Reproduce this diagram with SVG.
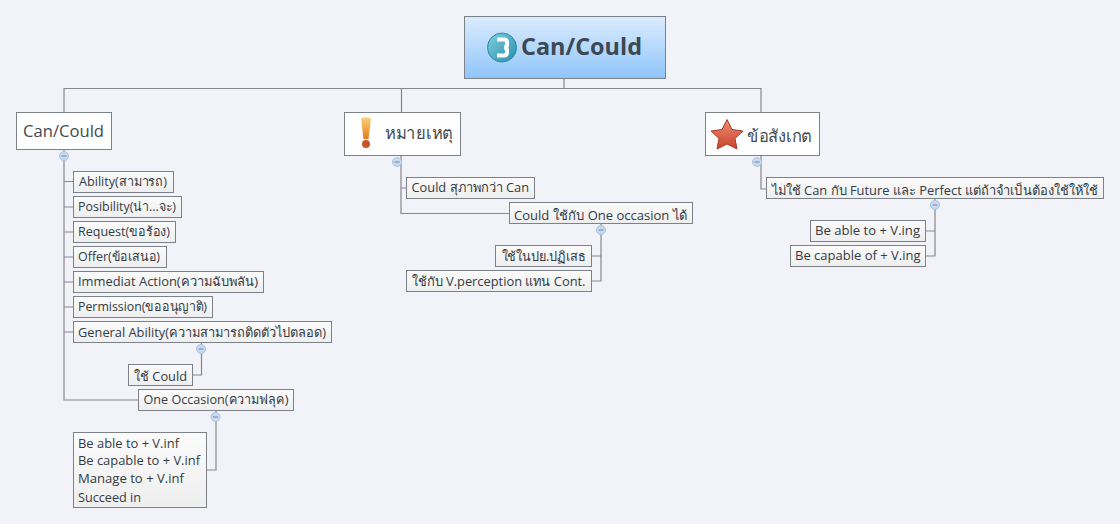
<svg xmlns="http://www.w3.org/2000/svg" width="1120" height="524" viewBox="0 0 1120 524">
<style>
text{font-family:"Open Sans","Noto Sans","DejaVu Sans",sans-serif;fill:#333b44}
.s{font-size:12.8px}
.m{font-size:17px;fill:#444a50}
.box{fill:url(#sub);stroke:#7d8288;stroke-width:1}
.main{fill:#fff;stroke:#7d8288;stroke-width:1}
#conn path{fill:none;stroke:#85888d;stroke-width:1.2}
.col circle{fill:#c9d9ef;stroke:#a9c3e4;stroke-width:1}
.col path{stroke:#6f86a8;stroke-width:1;fill:none}
</style>
<defs>
<linearGradient id="sub" x1="0" y1="0" x2="0" y2="1"><stop offset="0" stop-color="#fbfbfb"/><stop offset="1" stop-color="#eeeeee"/></linearGradient>
<linearGradient id="root" x1="0" y1="0" x2="0" y2="1"><stop offset="0" stop-color="#dcecfd"/><stop offset="1" stop-color="#8fc5fb"/></linearGradient>
<linearGradient id="ball" x1="0" y1="0" x2="1" y2="1"><stop offset="0" stop-color="#7fd0dc"/><stop offset="1" stop-color="#2a8fb0"/></linearGradient>
<linearGradient id="ex" x1="0" y1="0" x2="0" y2="1"><stop offset="0" stop-color="#fbd27a"/><stop offset="1" stop-color="#e8791c"/></linearGradient>
<linearGradient id="star" x1="0" y1="0" x2="0" y2="1"><stop offset="0" stop-color="#ee8a70"/><stop offset="1" stop-color="#c9452f"/></linearGradient>
<g id="c" class="col"><circle r="4.500"/><path d="M-2.500 0H2.500"/></g>
</defs>
<rect width="1120" height="524" fill="#f1f3f8"/>
<g id="conn">
<path d="M564 79V88.500M64 112V88.500H761V112M401.500 88.500V112"/>
<path d="M64 150V400H138M64 181.500H73M64 207H73M64 232H73M64 257H73M64 282H73M64 307H73M64 332H73"/>
<path d="M201.500 343V375H193"/>
<path d="M216 411V470H207"/>
<path d="M401 156V213.500H509M401 188H406"/>
<path d="M601 224V281H592M601 256H592"/>
<path d="M761 156V189H766"/>
<path d="M935 199V256H926M935 231H926"/>
</g>
<g id="root-node">
<rect x="464.500" y="16.500" width="201" height="62" fill="url(#root)" stroke="#7d8288"/>
<circle cx="502" cy="47.500" r="14.500" fill="url(#ball)" stroke="#2f86a8"/>
<path d="M497 39.500H504Q507 39.500 507 42.500V45Q507 47.500 504 47.500Q507 47.500 507 50V52.500Q507 55.500 504 55.500H497" fill="none" stroke="#fff" stroke-width="4"/>
<text x="521" y="55" font-size="24" font-weight="700" style="fill:#3c4854" textLength="121" lengthAdjust="spacingAndGlyphs">Can/Could</text>
</g>
<g id="n-cancould"><rect class="main" x="16.500" y="112.500" width="95" height="37"/><text class="m" x="23" y="137" textLength="81" lengthAdjust="spacingAndGlyphs">Can/Could</text></g>
<g id="n-note"><rect class="main" x="344.500" y="112.500" width="116" height="43"/>
<path d="M361 118.500Q366 116 371 118.500L368.500 139H363.500Z" fill="url(#ex)"/><circle cx="366" cy="144" r="4" fill="#c9542a"/>
<text class="m" x="385" y="139" textLength="68" lengthAdjust="spacingAndGlyphs">หมายเหตุ</text></g>
<g id="n-obs"><rect class="main" x="705.500" y="112.500" width="114" height="43"/>
<path d="M727 119.500L732 129.500L743 131L735 138.500L737 149L727 144L717 149L719 138.500L711 131L722 129.500Z" fill="url(#star)" stroke="#a83a2a" stroke-width="1"/>
<text class="m" x="747" y="142" textLength="65" lengthAdjust="spacingAndGlyphs">ข้อสังเกต</text></g>
<g id="n1"><rect class="box" x="73.500" y="171.500" width="100" height="21"/><text class="s" x="79" y="186" textLength="88" lengthAdjust="spacingAndGlyphs">Ability(สามารถ)</text></g>
<g id="n2"><rect class="box" x="73.500" y="196.500" width="108" height="21"/><text class="s" x="78" y="211" textLength="98" lengthAdjust="spacingAndGlyphs">Posibility(น่า...จะ)</text></g>
<g id="n3"><rect class="box" x="73.500" y="221.500" width="102" height="21"/><text class="s" x="78" y="236" textLength="92" lengthAdjust="spacingAndGlyphs">Request(ขอร้อง)</text></g>
<g id="n4"><rect class="box" x="73.500" y="246.500" width="93" height="21"/><text class="s" x="78" y="261" textLength="82" lengthAdjust="spacingAndGlyphs">Offer(ข้อเสนอ)</text></g>
<g id="n5"><rect class="box" x="73.500" y="271.500" width="190" height="21"/><text class="s" x="78" y="286" textLength="180" lengthAdjust="spacingAndGlyphs">Immediat Action(ความฉับพลัน)</text></g>
<g id="n6"><rect class="box" x="73.500" y="296.500" width="139" height="21"/><text class="s" x="78" y="311" textLength="129" lengthAdjust="spacingAndGlyphs">Permission(ขออนุญาติ)</text></g>
<g id="n7"><rect class="box" x="73.500" y="321.500" width="258" height="21"/><text class="s" x="78" y="337" textLength="248" lengthAdjust="spacingAndGlyphs">General Ability(ความสามารถติดตัวไปตลอด)</text></g>
<g id="n8"><rect class="box" x="128.500" y="364.500" width="64" height="21"/><text class="s" x="134" y="381" textLength="53" lengthAdjust="spacingAndGlyphs">ใช้ Could</text></g>
<g id="n9"><rect class="box" x="138.500" y="389.500" width="155" height="21"/><text class="s" x="143.500" y="404" textLength="145" lengthAdjust="spacingAndGlyphs">One Occasion(ความฟลุค)</text></g>
<g id="n10"><rect class="box" x="73.500" y="432.500" width="133" height="75"/>
<text class="s" x="78" y="448" textLength="101" lengthAdjust="spacingAndGlyphs">Be able to + V.inf</text><text class="s" x="78" y="465" textLength="122" lengthAdjust="spacingAndGlyphs">Be capable to + V.inf</text><text class="s" x="78" y="483" textLength="106" lengthAdjust="spacingAndGlyphs">Manage to + V.inf</text><text class="s" x="78" y="502" textLength="63" lengthAdjust="spacingAndGlyphs">Succeed in</text></g>
<g id="n11"><rect class="box" x="406.500" y="177.500" width="128" height="21"/><text class="s" x="411.500" y="192" textLength="117.500" lengthAdjust="spacingAndGlyphs">Could สุภาพกว่า Can</text></g>
<g id="n12"><rect class="box" x="509.500" y="202.500" width="183" height="21"/><text class="s" x="514" y="220" textLength="173" lengthAdjust="spacingAndGlyphs">Could ใช้กับ One occasion ได้</text></g>
<g id="n13"><rect class="box" x="495.500" y="245.500" width="96" height="21"/><text class="s" x="501.500" y="261" textLength="84.500" lengthAdjust="spacingAndGlyphs">ใช้ในปย.ปฏิเสธ</text></g>
<g id="n14"><rect class="box" x="406.500" y="270.500" width="185" height="21"/><text class="s" x="411.500" y="286" textLength="174" lengthAdjust="spacingAndGlyphs">ใช้กับ V.perception แทน Cont.</text></g>
<g id="n15"><rect class="box" x="766.500" y="177.500" width="337" height="21"/><text class="s" x="771.500" y="195" textLength="326.500" lengthAdjust="spacingAndGlyphs">ไม่ใช้ Can กับ Future และ Perfect แต่ถ้าจำเป็นต้องใช้ให้ใช้</text></g>
<g id="n16"><rect class="box" x="810.500" y="220.500" width="115" height="21"/><text class="s" x="815" y="235" textLength="105" lengthAdjust="spacingAndGlyphs">Be able to + V.ing</text></g>
<g id="n17"><rect class="box" x="790.500" y="245.500" width="135" height="21"/><text class="s" x="795" y="260" textLength="125.500" lengthAdjust="spacingAndGlyphs">Be capable of + V.ing</text></g>
<use href="#c" x="64" y="156"/>
<use href="#c" x="201" y="349"/>
<use href="#c" x="215.500" y="417"/>
<use href="#c" x="397" y="162"/>
<use href="#c" x="601" y="230"/>
<use href="#c" x="757" y="162"/>
<use href="#c" x="935" y="205"/>
</svg>
